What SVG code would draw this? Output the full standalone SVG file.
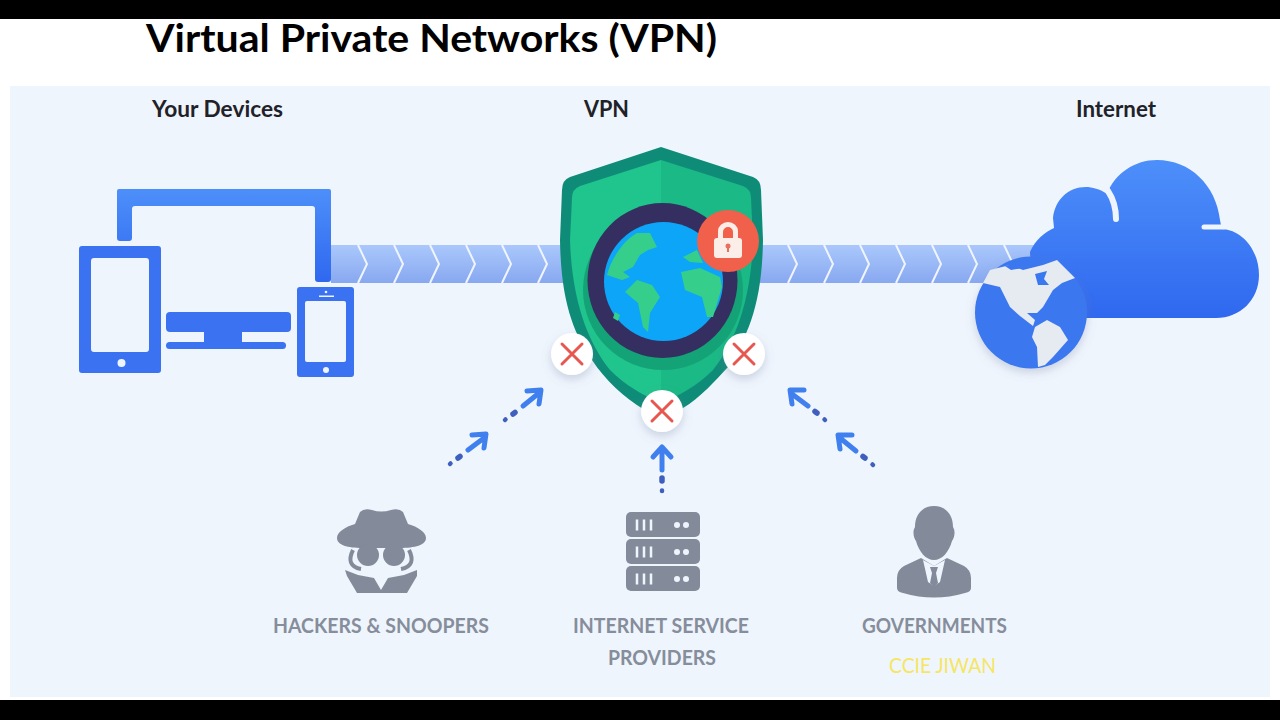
<svg xmlns="http://www.w3.org/2000/svg" width="1280" height="720" viewBox="0 0 1280 720">
<style>
.hd{font-family:"Lato","Liberation Sans",sans-serif;font-weight:700;font-size:22px;fill:#1f2228}
.lb{font-family:"Lato","Liberation Sans",sans-serif;font-weight:700;font-size:20px;fill:#868d9b}
.gy{fill:#838a9a}
.bl{fill:#3a72f2}
.sv{fill:#eff5fd}
.chev{fill:none;stroke:#f0f5fd;stroke-width:2}
.tail{stroke:#3f5fbe;stroke-linecap:round;fill:none}
.head{stroke:#3f80ee;stroke-width:5;stroke-linecap:round;stroke-linejoin:round;fill:none}
.xm{stroke:#e8574f;stroke-width:3;stroke-linecap:round}
.land{fill:#35cf8b}
.wl{fill:#e6ebf1}
</style>
<defs>
<linearGradient id="band" x1="0" y1="0" x2="0" y2="1"><stop offset="0" stop-color="#aac8fc"/><stop offset="1" stop-color="#88a8f0"/></linearGradient>
<linearGradient id="blue" x1="0" y1="0" x2="0" y2="1"><stop offset="0" stop-color="#4d8ffa"/><stop offset="1" stop-color="#2f68ef"/></linearGradient>
<filter id="sh" x="-40%" y="-40%" width="180%" height="180%"><feDropShadow dx="0" dy="4" stdDeviation="5" flood-color="#6f7f9f" flood-opacity=".3"/></filter>
<g id="x-badge"><circle r="21" fill="#fff" filter="url(#sh)"/><path class="xm" d="M-10-10L10 10M10-10L-10 10"/></g>
</defs>

<rect width="1280" height="720" fill="#fff"/>
<rect width="1280" height="19" fill="#000"/>
<rect y="700" width="1280" height="20" fill="#000"/>
<rect x="10" y="86" width="1260" height="611" fill="#eff5fd"/>

<text x="146" y="52" font-family="Lato,Open Sans,Liberation Sans,sans-serif" font-weight="700" font-size="39" fill="#000" textLength="571" lengthAdjust="spacingAndGlyphs">Virtual Private Networks (VPN)</text>
<text class="hd" x="152" y="117" textLength="131" lengthAdjust="spacingAndGlyphs">Your Devices</text>
<text class="hd" x="584" y="117" textLength="45" lengthAdjust="spacingAndGlyphs">VPN</text>
<text class="hd" x="1076" y="117" textLength="80" lengthAdjust="spacingAndGlyphs">Internet</text>

<g id="connectors">
<g id="tunnel-left">
<rect x="331" y="245" width="232" height="38" fill="url(#band)"/>
<path class="chev" d="M358 245L367 264L358 283M394 245L403 264L394 283M430 245L439 264L430 283M466 245L475 264L466 283M502 245L511 264L502 283M538 245L547 264L538 283"/>
</g>
<g id="tunnel-right">
<rect x="760" y="245" width="285" height="38" fill="url(#band)"/>
<path class="chev" d="M788 245L797 264L788 283M824 245L833 264L824 283M860 245L869 264L860 283M896 245L905 264L896 283M932 245L941 264L932 283M968 245L977 264L968 283M1004 245L1013 264L1004 283"/>
</g>
<g id="arrow-hackers-1"><path class="tail" stroke-width="4.5" d="M450 464L450.500 463.500"/><path class="tail" stroke-width="5.500" d="M458 458L460 456.500"/><path class="head" d="M468 450L484 438M472 435L486 434L484 448"/></g>
<g id="arrow-hackers-2"><path class="tail" stroke-width="4.500" d="M505 420L505.500 419.500"/><path class="tail" stroke-width="5.500" d="M513 414L515 412.500"/><path class="head" d="M523 406L539 393M527 391L541 390L539 404"/></g>
<g id="arrow-isp"><path class="tail" stroke-width="4.500" d="M662 490.500L662 491"/><path class="tail" stroke-width="5.500" d="M662 478L662 481"/><path class="head" d="M662 470L662 449M653 457L662 447L671 457"/></g>
<g id="arrow-gov-1"><path class="tail" stroke-width="4.500" d="M824.500 419.500L825 420"/><path class="tail" stroke-width="5.500" d="M815 411.500L817 413"/><path class="head" d="M808 406L792 394M804 390L790 390L792 404"/></g>
<g id="arrow-gov-2"><path class="tail" stroke-width="4.500" d="M872.500 464.500L873 465"/><path class="tail" stroke-width="5.500" d="M863 456.500L865 458"/><path class="head" d="M856 451L840 438M852 435L838 435L840 449"/></g>
</g>

<g id="devices">
<path d="M119 189H329Q331 189 331 191V279Q331 282 328 282H318Q315 282 315 279V209Q315 206 312 206H135Q132 206 132 209V238Q132 241 129 241H120Q117 241 117 238V191Q117 189 119 189Z" fill="url(#blue)"/>
<rect class="bl" x="79" y="246" width="82" height="127" rx="3"/>
<rect class="sv" x="91" y="258" width="58" height="94" rx="3"/>
<circle class="sv" cx="121.500" cy="363" r="4"/>
<rect class="bl" x="166" y="312" width="125" height="20" rx="4"/>
<rect class="bl" x="166" y="342" width="120" height="7" rx="3.500"/>
<rect class="bl" x="204" y="330" width="38" height="14"/>
<rect class="bl" x="297" y="287" width="57" height="90" rx="3"/>
<rect class="sv" x="305" y="301" width="41" height="61" rx="2"/>
<circle class="sv" cx="326" cy="370" r="3"/>
<circle class="sv" cx="326" cy="292" r="1.300"/>
<rect class="sv" x="319" y="295.500" width="15" height="1.500"/>
</g>

<g id="vpn-shield">
<path d="M661 147L570 177Q562 180 562 190L560 240C561 305 575 335 592 360C605 380 625 398 643 409Q661 419 683 408C700 398 716 380 728 367C748 335 762 305 763 240L761 190Q761 180 753 177Z" fill="#0f8c78"/>
<path d="M661 160L580 186Q572 189 572 198L570 240C572 305 590 345 610 370C625 385 645 397 661 402Z" fill="#20c48d"/>
<path d="M661 160L743 186Q751 189 751 198L753 240C751 305 733 345 713 370C698 385 678 397 661 402Z" fill="#1ab985"/>
<circle cx="663" cy="290" r="80" fill="#14a377"/>
<ellipse cx="662.500" cy="280.500" rx="75" ry="77.500" fill="#342f60"/>
<circle cx="663.500" cy="281.500" r="59.500" fill="#0ca5f8"/>
<path class="land" d="M607 275C610 262 622 241 637 233L650 233L657 247L648 250L640 255L633 267L623 272L630 277L622 280Z"/>
<path class="land" d="M625 292L637 280L652 285L660 297L650 313L648 332L643 327L638 303Z"/>
<path class="land" d="M681 272L700 268L720 277L722 287L713 317L707 317L702 297L685 290Z"/>
<path class="land" d="M683 257L697 250L703 263L690 262Z"/>
<path class="land" d="M615 312L620 315L618 321L613 318Z"/>
<g id="lock-badge">
<circle cx="728" cy="241" r="31" fill="#f0604b"/>
<path d="M718 240V231A10 9 0 0 1 738 231V240H733V232A5 5 0 0 0 723 232V240Z" fill="#fbeee8"/>
<rect x="714" y="238" width="28" height="20" rx="3" fill="#fbeee8"/>
<circle cx="728" cy="246" r="2.500" fill="#e9705e"/>
<rect x="727" y="247" width="2" height="5" fill="#e9705e"/>
</g>
</g>
<use id="block-left" href="#x-badge" x="572" y="354"/>
<use id="block-right" href="#x-badge" x="744" y="354"/>
<use id="block-bottom" href="#x-badge" x="662" y="411"/>

<g id="internet-cloud">
<path d="M1080 318Q1032 318 1030 252C1035 240 1045 232 1054 228L1053 218C1055 200 1068 187 1086 187C1092 187 1100 189 1107 194C1115 173 1135 160 1157 160C1190 160 1216 185 1220 220Q1221 226 1222 229C1242 230 1259 250 1259 275C1259 300 1240 318 1216 318Z" fill="url(#blue)"/>
<path d="M1108 191Q1116 203 1116 219" fill="none" stroke="#eff5fd" stroke-width="6" stroke-linecap="round"/>
<path d="M1204 227H1224" fill="none" stroke="#eff5fd" stroke-width="5" stroke-linecap="round"/>
<circle cx="1031" cy="312.500" r="56" fill="#3a78f0" filter="url(#sh)"/>
<path class="wl" d="M983 283L990 270L1010 265L1023 270L1043 265L1057 260L1075 278L1062 283L1053 290L1043 307L1037 313L1027 313L1035 320L1033 326L1020 316L1010 307L1000 287Z"/>
<path fill="#3a78f0" d="M1035 274L1047 271L1044 279L1049 285L1038 285Z"/>
<path fill="#3a78f0" d="M1005 266L1017 263L1023 268L1011 270Z"/>
<path class="wl" d="M1035 327L1047 320L1060 327L1068 340L1053 357L1045 365L1038 367L1037 347L1032 337Z"/>
</g>

<g id="hackers">
<path class="gy" d="M355 524L360 512Q364 508 372 510Q381 513 391 510Q399 508 403 512L408 524C418 527 426 532 426 538C426 545 415 548 400 548L362 548C348 548 337 545 337 538C337 532 345 527 355 524Z"/>
<path fill="none" stroke="#838a9a" stroke-width="4" d="M353 550C348 560 350 567 361 569M409 550C414 560 412 567 401 569"/>
<circle class="gy" cx="368" cy="555" r="11"/><circle class="gy" cx="394" cy="555" r="11"/>
<path class="gy" d="M345 570L358 575L374 578L381 590L388 578L404 575L417 570L417 576L407 593H357L347 576Z"/>
<text class="lb" x="273" y="633" textLength="216" lengthAdjust="spacingAndGlyphs">HACKERS &amp; SNOOPERS</text>
</g>

<g id="isp">
<rect class="gy" x="626" y="512" width="74" height="25" rx="5"/>
<rect class="gy" x="626" y="539" width="74" height="25" rx="5"/>
<rect class="gy" x="626" y="566" width="74" height="25" rx="5"/>
<path stroke="#eff5fd" stroke-width="2.500" d="M637 519.500v11M644 519.500v11M651 519.500v11M637 546.500v11M644 546.500v11M651 546.500v11M637 573.500v11M644 573.500v11M651 573.500v11"/>
<g class="sv"><circle cx="677" cy="525" r="3"/><circle cx="686" cy="525" r="3"/><circle cx="677" cy="552" r="3"/><circle cx="686" cy="552" r="3"/><circle cx="677" cy="579" r="3"/><circle cx="686" cy="579" r="3"/></g>
<text class="lb" x="573" y="633" textLength="176" lengthAdjust="spacingAndGlyphs">INTERNET SERVICE</text>
<text class="lb" x="608" y="665" textLength="108" lengthAdjust="spacingAndGlyphs">PROVIDERS</text>
</g>

<g id="governments">
<path class="gy" d="M934 506C946 506 953 515 953 527C956 532 954 538 952 541C949 552 942 560 934 560C926 560 919 552 916 541C914 538 912 532 915 527C915 515 922 506 934 506Z"/>
<path class="gy" d="M921 558L934 566L947 558L964 566Q971 570 971 578V588Q971 592 965 593Q934 602 903 593Q897 592 897 588V578Q897 570 904 566Z"/>
<path class="sv" d="M923 560L934 566L945 560L940 582L934 586L928 582Z"/>
<path class="gy" d="M930 567H938L936 573L938 583L934 587L930 583L932 573Z"/>
<text class="lb" x="862" y="633" textLength="145" lengthAdjust="spacingAndGlyphs">GOVERNMENTS</text>
</g>

<text id="watermark" x="889" y="673" font-family="Lato,Liberation Sans,sans-serif" font-size="21" fill="#f5e663" textLength="107" lengthAdjust="spacingAndGlyphs">CCIE JIWAN</text>
</svg>
